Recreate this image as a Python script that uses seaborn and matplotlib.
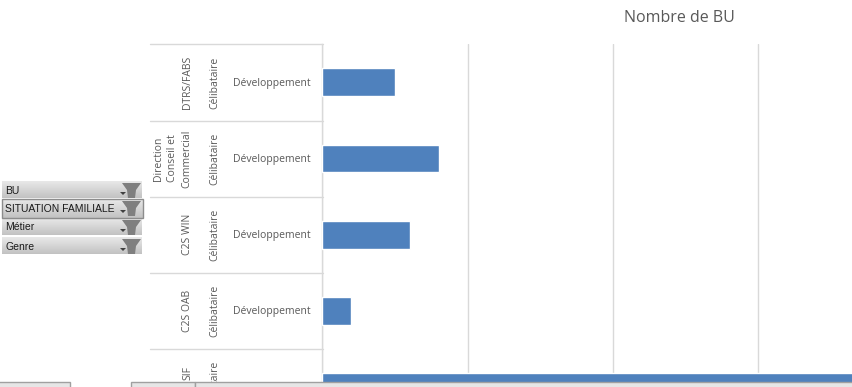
import matplotlib
matplotlib.use("Agg")
import matplotlib.pyplot as plt
from matplotlib.patches import Rectangle, Polygon
from matplotlib.transforms import blended_transform_factory
import numpy as np
import pandas as pd
import seaborn as sns

bu = ["DTRS/FABS", "Direction\nConseil et\nCommercial", "C2S WIN", "C2S OAB", "SIF"]
situation = ["Célibataire"] * 5
metier = ["Développement"] * 5
nombre = [5, 8, 6, 2, 40]
title = "Nombre de BU"
filters = ["BU", "SITUATION FAMILIALE", "Métier", "Genre"]

W, H = 852, 387
BLUE = "#4F81BD"
GRID = "#D9D9D9"
TXT = "#595959"

sns.set_theme(style="white")
plt.rcParams["font.family"] = ["Open Sans", "DejaVu Sans"]

df = pd.DataFrame({"row": [f"{i}" for i in range(len(bu))], "nombre": nombre})

fig = plt.figure(figsize=(W / 100, H / 100), dpi=100, facecolor="white")
ax = fig.add_axes([322.4 / W, 0, (W - 322.4) / W, (H - 44) / H])
sns.barplot(data=df, y="row", x="nombre", orient="h", color=BLUE, saturation=1,
            width=0.365, ax=ax, zorder=3)
ax.set_xlim(0, 36.47)
ax.set_ylim(3.995, -0.504)
ax.set_xlabel("")
ax.set_ylabel("")
ax.set_xticks([0, 10, 20, 30])
ax.tick_params(axis="x", length=0, labelbottom=False)
ax.xaxis.grid(True, color=GRID, lw=1)
ax.set_axisbelow(True)
for s in ["top", "right", "bottom"]:
    ax.spines[s].set_visible(False)
ax.spines["left"].set_color(GRID)
ax.spines["left"].set_linewidth(1)
ax.spines["left"].set_zorder(1)
ax.set_yticks(range(len(metier)))
ax.set_yticklabels([""] * len(metier))
ax.tick_params(axis="y", length=0)

tr = blended_transform_factory(fig.transFigure, ax.transData)
fs = 7.5
for i in range(len(bu)):
    if i < 4:
        ax.text(311 / W, i + 0.012, metier[i], transform=tr, ha="right", va="center", fontsize=fs,
                color=TXT, clip_on=False)
    ax.text(215 / W, i, situation[i], transform=tr, ha="center", va="center", rotation=90,
            fontsize=fs, color=TXT, clip_on=False)
    if i == 4:
        # the last row's label runs off the bottom of the view: its end sits at y=366
        fig.text(187.5 / W, 1 - 366 / H, bu[i], ha="center", va="top", rotation=90,
                 fontsize=fs, color=TXT)
    else:
        ax.text(172.5 / W if "\n" in bu[i] else 187.5 / W, i, bu[i], transform=tr, ha="center",
                va="center", rotation=90, fontsize=fs, color=TXT, linespacing=1.4, clip_on=False,
                multialignment="center")
for k in range(len(bu)):
    yk = k - 0.5 + (0.006 if k else -0.006)
    ax.plot([150 / W, 323 / W], [yk, yk], transform=tr, color=GRID, lw=1, clip_on=False)

fig.text(679.5 / W, 1 - 18 / H, title, ha="center", va="center", fontsize=11.5, color=TXT)

# overlay in pixel space: filter buttons and bottom tabs
ov = fig.add_axes([0, 0, 1, 1], zorder=10)
ov.set_xlim(0, W)
ov.set_ylim(H, 0)
ov.axis("off")
ov.patch.set_alpha(0)

grad = np.linspace(0.91, 0.76, 32).reshape(-1, 1)
tops = [181, 199, 218, 237]
for name, t in zip(filters, tops):
    h = 18 if name != "SITUATION FAMILIALE" else 20
    x0, x1 = 2, 142
    if name == "SITUATION FAMILIALE":
        x1 = 143
    ov.imshow(grad, extent=[x0, x1, t + h - 1, t], cmap="gray", vmin=0, vmax=1,
              aspect="auto", zorder=2, interpolation="bilinear")
    if name == "SITUATION FAMILIALE":
        ov.add_patch(Rectangle((x0, t), x1 - x0, h - 1, fill=False, ec="#8C8C8C", lw=1, zorder=3))
    ov.text(5, t + h / 2 + 0.5, name, ha="left", va="center", fontsize=7.5, color="#1A1A1A",
            family=["Liberation Sans", "DejaVu Sans"], zorder=4)
    ov.add_patch(Polygon([[122, t + 2], [141, t + 2], [136, t + 9], [135, t + 17], [128, t + 17], [127, t + 9]],
                         closed=True, fc="#7F7F7F", ec="none", zorder=4))
    ov.add_patch(Polygon([[120, t + 11], [126, t + 11], [123, t + 14]],
                         closed=True, fc="#404040", ec="none", zorder=5))

for x0, x1 in [(-2, 69.5), (130.5, 194.5), (194.5, W + 2)]:
    ov.add_patch(Rectangle((x0, 381.5), x1 - x0, 8, fc="#E6E6E6", ec="#A0A0A0", lw=1, zorder=6))
ov.set_xlim(0, W)
ov.set_ylim(H, 0)

fig.savefig("out.png", dpi=100)
